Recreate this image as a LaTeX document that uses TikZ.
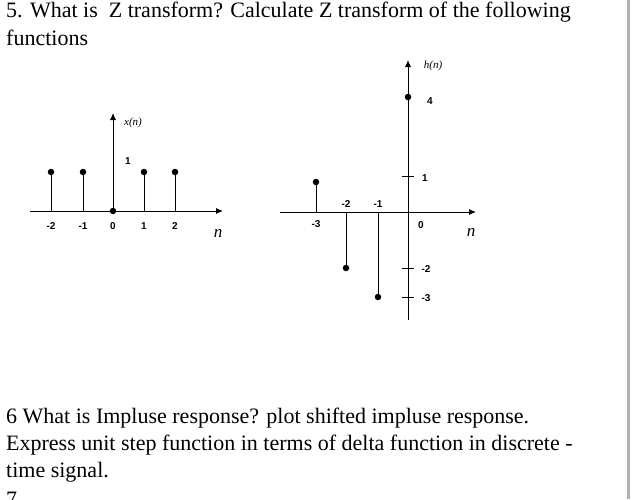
\documentclass[tikz,border=0pt]{standalone}
\usepackage{fontspec}
\usetikzlibrary{arrows.meta}
\setmainfont{Liberation Serif}
\newfontfamily\lab{Liberation Sans}
\begin{document}
\begin{tikzpicture}[x=1pt,y=-1pt,
  ax/.style={line width=0.9pt,-{Latex[length=7pt,width=6pt]}},
  stem/.style={line width=0.9pt},
  dotn/.style={circle,fill,inner sep=0pt,minimum size=6.5pt},
  num/.style={font=\lab\bfseries\fontsize{10}{11}\selectfont},
  big/.style={font=\fontsize{22}{24}\selectfont,anchor=west,inner sep=0pt}]
\useasboundingbox (0,0) rectangle (632,499);
\draw[gray!60,line width=3pt] (628,0) -- (628,499);
\node[big] (t1) at (6,12) {5. What is \ Z transform? Calculate Z transform of the following};
\node[big] (t2) at (6,38) {functions};
\node[big] (t3) at (6,418) {6 What is Impluse response? plot shifted impluse response.};
\node[big] (t4) at (6,445) {Express unit step function in terms of delta function in discrete -};
\node[big] (t5) at (6,472) {time signal.};
\node[big] (t6) at (6,499) {7};
% left plot
\coordinate (lx0) at (30,211); \coordinate (lx1) at (223,211);
\coordinate (ly0) at (113,211); \coordinate (ly1) at (113,113);
\draw[ax] (lx0) -- (lx1);
\draw[ax] (ly0) -- (ly1);
\foreach \x/\l in {51/-2,83/-1,144/1,175/2}{
  \coordinate (b\l) at (\x,211); \node[dotn] (d\l) at (\x,172) {};
  \draw[stem] (b\l) -- (d\l);
  \node[num] at (\x,226) {\l};}
\node[dotn] (d0) at (113,211) {};
\node[num] at (113,226) {0};
\node[num] at (128,161) {1};
\node[font=\itshape\fontsize{11}{12}\selectfont] at (133,123) {x(n)};
\node[font=\itshape\fontsize{17}{18}\selectfont] at (218,233) {n};
% right plot
\coordinate (rx0) at (280,212); \coordinate (rx1) at (476,212);
\coordinate (ry0) at (408,320); \coordinate (ry1) at (408,60);
\draw[ax] (rx0) -- (rx1);
\draw[ax] (ry0) -- (ry1);
\foreach \x/\y/\n in {316/182/a,346/268/b,378/297/c}{
  \coordinate (r\n) at (\x,212); \node[dotn] (e\n) at (\x,\y) {};
  \draw[stem] (r\n) -- (e\n);}
\node[dotn] (e0) at (408,97) {};
\foreach \y in {176,268,297}{\draw[stem] (402,\y) -- (414,\y);}
\node[num] at (316,224) {-3};
\node[num] at (346,204) {-2};
\node[num] at (378,204) {-1};
\node[num] at (421,225) {0};
\node[num] at (430,101) {4};
\node[num] at (425,178) {1};
\node[num] at (426,269) {-2};
\node[num] at (426,298) {-3};
\node[font=\itshape\fontsize{11}{12}\selectfont] at (433,66) {h(n)};
\node[font=\itshape\fontsize{17}{18}\selectfont] at (471,232) {n};
\end{tikzpicture}
\end{document}
